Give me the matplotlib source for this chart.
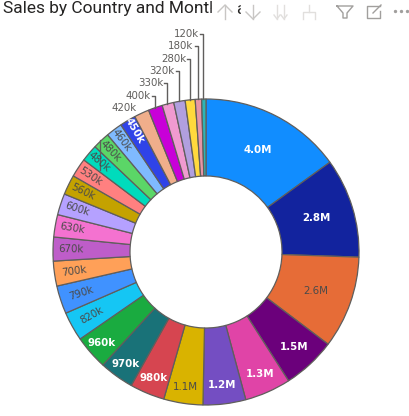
import numpy as np
import matplotlib.pyplot as plt

#slice values in millions, clockwise from the top
values = [4.0, 2.8, 2.6, 1.5, 1.3, 1.2, 1.1, 0.98, 0.97, 0.96, 0.82, 0.79, 0.70, 0.67, 0.63,
          0.60, 0.56, 0.53, 0.48, 0.48, 0.46, 0.45, 0.42, 0.40, 0.33, 0.32, 0.28, 0.18, 0.12]
labels = ["4.0M", "2.8M", "2.6M", "1.5M", "1.3M", "1.2M", "1.1M", "980k", "970k", "960k", "820k",
          "790k", "700k", "670k", "630k", "600k", "560k", "530k", "480k", "480k", "460k", "450k",
          "420k", "400k", "330k", "320k", "280k", "180k", "120k"]
colors = ["#118DFF", "#12239E", "#E66C37", "#6B007B", "#E044A7", "#744EC2", "#D9B300", "#D64550",
          "#197278", "#1AAB40", "#15C6F4", "#4092FF", "#FFA058", "#BE5DC9", "#F472D0", "#B5A1FF",
          "#C4A200", "#FF8080", "#00DBBC", "#5BD667", "#7FBAFF", "#2F43E8", "#F0AE8B", "#C800D8",
          "#F09AD0", "#B19FDF", "#FFD93D", "#E895A5", "#2CB5B5"]
white_labels = ["4.0M", "2.8M", "1.5M", "1.3M", "1.2M", "980k", "970k", "960k", "450k"]
flat_labels = ["4.0M", "2.8M", "2.6M", "1.5M", "1.3M", "1.2M", "1.1M", "980k", "970k", "960k"]

#distance of each inside label from the centre, in pixels
label_r = [114, 115, 117, 130, 133, 134, 137, 137, 138, 138, 131, 131, 133, 135, 136, 136, 137,
           138, 140, 139, 140, 141]

#outside labels: label, y of the label, x of the leader
outside = [("120k", 34, 203), ("180k", 46, 197.5), ("280k", 59, 190), ("320k", 71, 178.5),
           ("330k", 83, 167), ("400k", 96, 154.5)]

cx, cy, r_out, r_in = 206, 252, 153, 76
gray = "#605E5C"

fig = plt.figure(figsize=(4.09, 4.16), dpi=100)
ax = fig.add_axes([0, 0, 1, 1])

#pie in pixel units, y flipped by hand so it still runs clockwise
ax.pie(values, colors=colors, startangle=90, counterclock=False, center=(cx, 416 - cy), radius=r_out,
       wedgeprops=dict(width=r_out - r_in, edgecolor=gray, linewidth=0.9), frame=True)
ax.set_xlim(0, 409)
ax.set_ylim(0, 416)
ax.set_aspect("auto")
ax.axis("off")

#labels inside the ring
total = sum(values)
start = 0
for i, (v, lab) in enumerate(zip(values, labels)):
    mid = start + v / total * 180
    start += v / total * 360
    if i >= len(label_r):
        continue
    t = np.radians(mid)
    r = label_r[i]
    rot = 0 if lab in flat_labels else 270 - mid
    col = "white" if lab in white_labels else "#4A4A4A"
    ax.text(cx + r * np.sin(t), 416 - cy + r * np.cos(t), lab, color=col, fontsize=7.4, rotation=rot,
            rotation_mode="anchor", ha="center", va="center", fontweight="bold" if col == "white" else "normal")

#labels outside with leader lines
for lab, y, x in outside:
    ax.text(x - 4, 416 - y, lab, color=gray, fontsize=7.4, ha="right", va="center")
    dy = np.sqrt(r_out ** 2 - (x - cx) ** 2)
    ax.plot([x - 3, x, x], [416 - y, 416 - y, 416 - cy + dy], color=gray, lw=1)
ax.text(137, 416 - 108, "420k", color=gray, fontsize=7.4, ha="right", va="center")

#stray leader over the 480k slices
ax.plot([100, 100], [416 - 140, 416 - 170], color=gray, lw=0.9)

#title, cut off by the header icons
ax.text(3, 416 - 9, "Sales by Country and Month", fontsize=12.5, family="Roboto", color="#252423",
        ha="left", va="center")
ax.add_patch(plt.Rectangle((212, 416 - 24), 24, 24, color="white", zorder=5))
ax.text(236.5, 416 - 9, "a", fontsize=12.5, family="Roboto", color="#252423", ha="left", va="center", zorder=4)
ax.add_patch(plt.Rectangle((241, 416 - 24), 168, 24, color="white", zorder=5))

#header icons
ic = dict(color="#C8C6C4", lw=1, zorder=7)
ax.plot([225, 225], [416 - 19, 416 - 5], **ic)
ax.plot([218, 225, 232], [416 - 12, 416 - 5, 416 - 12], **ic)
ax.plot([253, 253], [416 - 5, 416 - 19], **ic)
ax.plot([246, 253, 260], [416 - 12, 416 - 19, 416 - 12], **ic)
for x in [277, 284]:
    ax.plot([x, x], [416 - 5, 416 - 19], color="#E1DFDD", lw=1, zorder=7)
    ax.plot([x - 3, x, x + 3], [416 - 15, 416 - 19, 416 - 15], color="#E1DFDD", lw=1, zorder=7)
ax.plot([309, 309], [416 - 5, 416 - 12], color="#E1DFDD", lw=1, zorder=7)
ax.plot([303, 303, 315, 315], [416 - 19, 416 - 12, 416 - 12, 416 - 19], color="#E1DFDD", lw=1, zorder=7)
ic2 = dict(color="#A19F9D", lw=1, zorder=7)
ax.plot([337, 353, 347, 347, 343, 343, 337], [416 - 6, 416 - 6, 416 - 13, 416 - 18, 416 - 18, 416 - 13, 416 - 6], **ic2)
ax.plot([380, 367, 367, 380, 380], [416 - 6, 416 - 6, 416 - 18, 416 - 18, 416 - 11], **ic2)
ax.plot([373, 381], [416 - 13, 416 - 5], **ic2)
ax.plot([395, 401, 407], [416 - 11] * 3, ls="none", marker="o", ms=1.4, color="#A19F9D", zorder=7)

fig.savefig("out.png", dpi=100)
